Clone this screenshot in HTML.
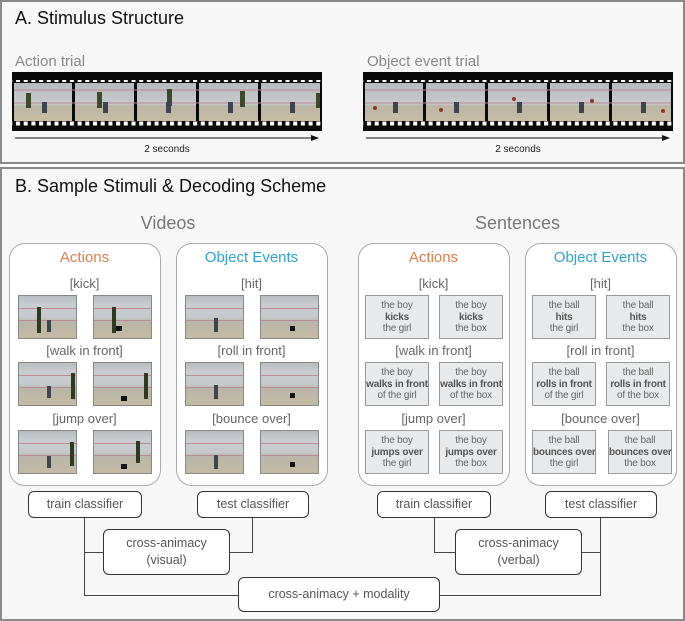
<!DOCTYPE html>
<html><head><meta charset="utf-8"><style>
*{margin:0;padding:0;box-sizing:border-box}
body{width:685px;height:621px;background:#fff;position:relative;overflow:hidden;font-family:"Liberation Sans",Arial,sans-serif}
.a{position:absolute}
.panel{position:absolute;border:2px solid #8a8a8a;background:#f7f7f7}
.t{position:absolute;white-space:nowrap}
.sc{position:absolute;background:linear-gradient(#b8bcc0 0%,#c9cdd0 20%,#c7cacd 50%,#b9b5a8 62%,#c4bba3 100%);border:1px solid #888}
.sc:before{content:"";position:absolute;left:0;right:0;top:28%;height:1px;background:#b68b93}
.sc:after{content:"";position:absolute;left:0;right:0;top:56%;height:1px;background:#b68b93}
.box{position:absolute;border:1px solid #aaa;border-radius:16px;background:#fff}
.sb{position:absolute;width:64px;height:44px;background:#e8e9ea;border:1px solid #999;font-size:10px;color:#666;text-align:center;line-height:11.5px;padding-top:4px;white-space:nowrap;letter-spacing:-0.2px}
.sb b{color:#555}
.lab{position:absolute;font-size:13px;color:#666;text-align:center;width:151px}
.cb{position:absolute;border:1px solid #333;border-radius:6px;background:#fff;font-size:12.5px;color:#555;text-align:center}
.ln{position:absolute;background:#444}
.p{position:absolute;background:#2f3a22}
</style></head><body>
<div class="panel" style="left:0;top:0;width:685px;height:164px"></div>
<div class="t" style="left:15px;top:8px;font-size:18px;color:#111">A. Stimulus Structure</div>
<div class="t" style="left:15px;top:53px;font-size:15px;color:#888">Action trial</div>
<div class="t" style="left:367px;top:53px;font-size:15px;color:#888">Object event trial</div>
<svg class="a" style="left:0;top:0" width="685" height="164">
<defs>
<pattern id="perf" x="14" y="0" width="7.7" height="10" patternUnits="userSpaceOnUse"><rect x="2" y="0" width="4" height="5.5" fill="#fff"/></pattern>
<linearGradient id="g" x1="0" y1="0" x2="0" y2="1"><stop offset="0" stop-color="#b6babd"/><stop offset="0.55" stop-color="#c8cbcd"/><stop offset="0.6" stop-color="#bcb6a6"/><stop offset="1" stop-color="#c6bda4"/></linearGradient>
<marker id="ar" markerWidth="8" markerHeight="6" refX="7" refY="3" orient="auto"><path d="M0,0L8,3L0,6z" fill="#111"/></marker>
</defs>
<rect x="12" y="72" width="310" height="59" fill="#0a0a0a"/>
<rect x="12" y="76" width="310" height="6" fill="url(#perf)"/>
<rect x="12" y="121.5" width="310" height="6" fill="url(#perf)"/>
<rect x="14" y="83" width="58" height="38" fill="url(#g)"/><rect x="75" y="83" width="59" height="38" fill="url(#g)"/><rect x="137" y="83" width="59" height="38" fill="url(#g)"/><rect x="199" y="83" width="59" height="38" fill="url(#g)"/><rect x="261" y="83" width="59" height="38" fill="url(#g)"/>
<g stroke="#b48892" stroke-width="1"><line x1="14" y1="90" x2="320" y2="90"/><line x1="14" y1="103" x2="320" y2="103"/></g>
<g fill="#3d4a2a"><rect x="26" y="93" width="5" height="15"/><rect x="97" y="92" width="5" height="16"/><rect x="167" y="89" width="5" height="17"/><rect x="240" y="91" width="5" height="16"/><rect x="316" y="93" width="4" height="15"/></g>
<g fill="#3e4450"><rect x="42" y="102" width="5" height="11"/><rect x="103" y="102" width="5" height="11"/><rect x="166" y="102" width="5" height="11"/><rect x="228" y="102" width="5" height="11"/><rect x="290" y="102" width="5" height="11"/></g>
<g transform="translate(351,0)">
<rect x="12" y="72" width="310" height="59" fill="#0a0a0a"/>
<rect x="12" y="76" width="310" height="6" fill="url(#perf)"/>
<rect x="12" y="121.5" width="310" height="6" fill="url(#perf)"/>
<rect x="14" y="83" width="58" height="38" fill="url(#g)"/><rect x="75" y="83" width="59" height="38" fill="url(#g)"/><rect x="137" y="83" width="59" height="38" fill="url(#g)"/><rect x="199" y="83" width="59" height="38" fill="url(#g)"/><rect x="261" y="83" width="59" height="38" fill="url(#g)"/>
<g stroke="#b48892"><line x1="14" y1="90" x2="320" y2="90"/><line x1="14" y1="103" x2="320" y2="103"/></g>
<g fill="#3e4450"><rect x="42" y="102" width="5" height="11"/><rect x="103" y="102" width="5" height="11"/><rect x="166" y="102" width="5" height="11"/><rect x="228" y="102" width="5" height="11"/><rect x="290" y="102" width="5" height="11"/></g>
<g fill="#8a3a2a"><circle cx="24" cy="108" r="2"/><circle cx="90" cy="110" r="2"/><circle cx="163" cy="99" r="2"/><circle cx="241" cy="101" r="2"/><circle cx="312" cy="111" r="2"/></g>
</g>
<line x1="15" y1="138" x2="318" y2="138" stroke="#111" stroke-width="1" marker-end="url(#ar)"/>
<line x1="366" y1="138" x2="669" y2="138" stroke="#111" stroke-width="1" marker-end="url(#ar)"/>
<text x="167" y="152" font-size="10" text-anchor="middle" fill="#222" font-family="Liberation Sans">2 seconds</text>
<text x="518" y="152" font-size="10" text-anchor="middle" fill="#222" font-family="Liberation Sans">2 seconds</text>
</svg>

<div class="panel" style="left:0;top:167px;width:685px;height:454px"></div>
<div class="t" style="left:15px;top:176px;font-size:18px;color:#111">B. Sample Stimuli &amp; Decoding Scheme</div>
<div class="t" style="left:0;width:336px;text-align:center;top:213px;font-size:18px;color:#777">Videos</div>
<div class="t" style="left:350px;width:335px;text-align:center;top:213px;font-size:18px;color:#777">Sentences</div>

<div class="box" style="left:9px;top:243px;width:152px;height:243px"></div>
<div class="box" style="left:176px;top:243px;width:152px;height:243px"></div>
<div class="box" style="left:358px;top:243px;width:152px;height:243px"></div>
<div class="box" style="left:525px;top:243px;width:152px;height:243px"></div>

<div class="lab" style="left:9px;top:249px;font-size:15px;color:#e07d4c">Actions</div>
<div class="lab" style="left:176px;top:249px;font-size:15px;color:#2fa3cf">Object Events</div>
<div class="lab" style="left:358px;top:249px;font-size:15px;color:#e07d4c">Actions</div>
<div class="lab" style="left:525px;top:249px;font-size:15px;color:#2fa3cf">Object Events</div>

<div class="lab" style="left:9px;top:276px">[kick]</div>
<div class="lab" style="left:9px;top:343px">[walk in front]</div>
<div class="lab" style="left:9px;top:411px">[jump over]</div>
<div class="lab" style="left:176px;top:276px">[hit]</div>
<div class="lab" style="left:176px;top:343px">[roll in front]</div>
<div class="lab" style="left:176px;top:411px">[bounce over]</div>
<div class="lab" style="left:358px;top:276px">[kick]</div>
<div class="lab" style="left:358px;top:343px">[walk in front]</div>
<div class="lab" style="left:358px;top:411px">[jump over]</div>
<div class="lab" style="left:525px;top:276px">[hit]</div>
<div class="lab" style="left:525px;top:343px">[roll in front]</div>
<div class="lab" style="left:525px;top:411px">[bounce over]</div>

<div class="sc" style="left:18px;top:295px;width:59px;height:44px"></div><div class="sc" style="left:93px;top:295px;width:59px;height:44px"></div>
<div class="sc" style="left:18px;top:362px;width:59px;height:44px"></div><div class="sc" style="left:93px;top:362px;width:59px;height:44px"></div>
<div class="sc" style="left:18px;top:430px;width:59px;height:44px"></div><div class="sc" style="left:93px;top:430px;width:59px;height:44px"></div>
<div class="sc" style="left:185px;top:295px;width:59px;height:44px"></div><div class="sc" style="left:260px;top:295px;width:59px;height:44px"></div>
<div class="sc" style="left:185px;top:362px;width:59px;height:44px"></div><div class="sc" style="left:260px;top:362px;width:59px;height:44px"></div>
<div class="sc" style="left:185px;top:430px;width:59px;height:44px"></div><div class="sc" style="left:260px;top:430px;width:59px;height:44px"></div>
<div class="p" style="left:37px;top:307px;width:4px;height:26px"></div><div class="p" style="left:112px;top:307px;width:4px;height:26px"></div>
<div class="p" style="left:71px;top:373px;width:4px;height:26px"></div><div class="p" style="left:144px;top:373px;width:4px;height:26px"></div>
<div class="p" style="left:70px;top:442px;width:4px;height:24px"></div><div class="p" style="left:136px;top:441px;width:4px;height:22px"></div>
<div class="a" style="left:47px;top:320px;width:4px;height:12px;background:#3e4450"></div><div class="a" style="left:116px;top:326px;width:6px;height:5px;background:#111"></div>
<div class="a" style="left:47px;top:386px;width:4px;height:12px;background:#3e4450"></div><div class="a" style="left:121px;top:396px;width:6px;height:5px;background:#111"></div>
<div class="a" style="left:47px;top:456px;width:4px;height:12px;background:#3e4450"></div><div class="a" style="left:121px;top:464px;width:6px;height:5px;background:#111"></div>
<div class="a" style="left:214px;top:318px;width:4px;height:14px;background:#3e4450"></div><div class="a" style="left:290px;top:326px;width:5px;height:5px;background:#111"></div>
<div class="a" style="left:214px;top:385px;width:4px;height:14px;background:#3e4450"></div><div class="a" style="left:290px;top:393px;width:5px;height:5px;background:#111"></div>
<div class="a" style="left:214px;top:455px;width:4px;height:14px;background:#3e4450"></div><div class="a" style="left:290px;top:462px;width:5px;height:5px;background:#111"></div>

<div class="sb" style="left:365px;top:295px">the boy<br><b>kicks</b><br>the girl</div>
<div class="sb" style="left:439px;top:295px">the boy<br><b>kicks</b><br>the box</div>
<div class="sb" style="left:365px;top:362px">the boy<br><b>walks in front</b><br>of the girl</div>
<div class="sb" style="left:439px;top:362px">the boy<br><b>walks in front</b><br>of the box</div>
<div class="sb" style="left:365px;top:430px">the boy<br><b>jumps over</b><br>the girl</div>
<div class="sb" style="left:439px;top:430px">the boy<br><b>jumps over</b><br>the box</div>
<div class="sb" style="left:532px;top:295px">the ball<br><b>hits</b><br>the girl</div>
<div class="sb" style="left:606px;top:295px">the ball<br><b>hits</b><br>the box</div>
<div class="sb" style="left:532px;top:362px">the ball<br><b>rolls in front</b><br>of the girl</div>
<div class="sb" style="left:606px;top:362px">the ball<br><b>rolls in front</b><br>of the box</div>
<div class="sb" style="left:532px;top:430px">the ball<br><b>bounces over</b><br>the girl</div>
<div class="sb" style="left:608px;top:430px">the ball<br><b>bounces over</b><br>the box</div>

<div class="ln" style="left:84px;top:517px;width:1px;height:79px"></div>
<div class="ln" style="left:84px;top:595px;width:155px;height:1px"></div>
<div class="ln" style="left:84px;top:552px;width:20px;height:1px"></div>
<div class="ln" style="left:252px;top:517px;width:1px;height:36px"></div>
<div class="ln" style="left:230px;top:552px;width:23px;height:1px"></div>
<div class="ln" style="left:434px;top:517px;width:1px;height:36px"></div>
<div class="ln" style="left:434px;top:552px;width:22px;height:1px"></div>
<div class="ln" style="left:600px;top:517px;width:1px;height:79px"></div>
<div class="ln" style="left:582px;top:552px;width:19px;height:1px"></div>
<div class="ln" style="left:440px;top:595px;width:161px;height:1px"></div>

<div class="cb" style="left:28px;top:491px;width:114px;height:27px;line-height:25px">train classifier</div>
<div class="cb" style="left:197px;top:491px;width:112px;height:27px;line-height:25px">test classifier</div>
<div class="cb" style="left:377px;top:491px;width:114px;height:27px;line-height:25px">train classifier</div>
<div class="cb" style="left:545px;top:491px;width:112px;height:27px;line-height:25px">test classifier</div>
<div class="cb" style="left:103px;top:529px;width:127px;height:46px;line-height:17px;padding-top:5px">cross-animacy<br>(visual)</div>
<div class="cb" style="left:455px;top:529px;width:127px;height:46px;line-height:17px;padding-top:5px">cross-animacy<br>(verbal)</div>
<div class="cb" style="left:238px;top:577px;width:202px;height:35px;line-height:33px">cross-animacy + modality</div>
</body></html>
